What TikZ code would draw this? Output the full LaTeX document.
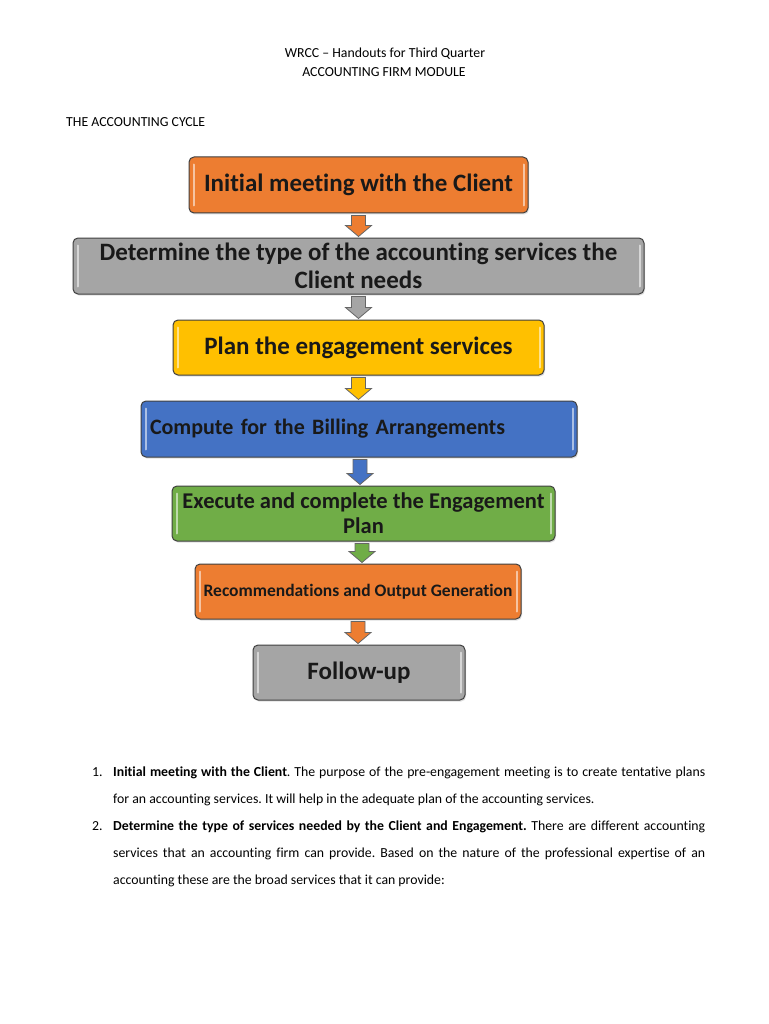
\documentclass[tikz,border=0pt]{standalone}
\usepackage{fontspec}
\setmainfont{Carlito}[Ligatures={TeX,NoCommon}]
\usetikzlibrary{calc,shadows}
\definecolor{cOrange}{HTML}{ED7D31}
\definecolor{cGray}{HTML}{A5A5A5}
\definecolor{cYellow}{HTML}{FFC000}
\definecolor{cBlue}{HTML}{4472C4}
\definecolor{cGreen}{HTML}{70AD47}
\definecolor{cEdge}{HTML}{404040}
\frenchspacing
\newcommand\flowarrow[4]{%
  \draw[flowarr, fill=#3] let \p1=([xshift=#4]#1.south), \p2=([xshift=#4]#2.north) in
    (\x1-7pt,\y1-2pt) -- (\x1+7pt,\y1-2pt) -- (\x1+7pt,\y2+12pt) -- (\x1+13pt,\y2+12pt)
    -- (\x1,\y2+1pt) -- (\x1-13pt,\y2+12pt) -- (\x1-7pt,\y2+12pt) -- cycle;}
\begin{document}
\begin{tikzpicture}[x=1pt,y=-1pt,
  box/.style={draw=cEdge, line width=1pt, rounded corners=5pt, inner sep=0pt,
    align=center, text=black!90,
    drop shadow={opacity=0.25, shadow xshift=1pt, shadow yshift=-1.5pt}},
  hl/.style={white, opacity=0.55, line width=2pt, line cap=round},
  flowarr/.style={draw=black!60, line width=0.8pt, line join=miter},
  plain/.style={inner sep=0pt, font=\fontsize{13.8}{16}\selectfont},
  listtext/.style={inner sep=0pt, anchor=north west, text width=592pt, align=justify,
    font=\fontsize{13.8}{27}\selectfont}]
\useasboundingbox (0,0) rectangle (768,1024);
\fill[white] (0,0) rectangle (768,1024);

% header
\node[plain] (h1) at (385,54) {WRCC -- Handouts for Third Quarter};
\node[plain] (h2) at (384,72) {ACCOUNTING FIRM MODULE};
\node[plain, anchor=west] (h3) at (66,122) {THE ACCOUNTING CYCLE};

% boxes
\node[box, fill=cOrange, minimum width=339pt, minimum height=56pt,
  font=\fontsize{25}{28}\selectfont\bfseries] (b1) at (358.5,185) {Initial meeting with the Client};
\node[box, fill=cGray, minimum width=571pt, minimum height=56pt,
  font=\fontsize{25}{28}\selectfont\bfseries] (b2) at (358.5,266) {Determine the type of the accounting services the\\Client needs};
\node[box, fill=cYellow, minimum width=371pt, minimum height=55pt,
  font=\fontsize{25}{28}\selectfont\bfseries] (b3) at (358.5,347.5) {Plan the engagement services};
\node[box, fill=cBlue, minimum width=436pt, minimum height=56pt, text width=418pt, align=left,
  font=\fontsize{22}{26}\selectfont\bfseries] (b4) at (359,429) {Compute for the Billing Arrangements};
\node[box, fill=cGreen, minimum width=383pt, minimum height=55pt,
  font=\fontsize{22.5}{25}\selectfont\bfseries] (b5) at (363.5,513.5) {Execute and complete the Engagement\\Plan};
\node[box, fill=cOrange, minimum width=326pt, minimum height=55pt,
  font=\fontsize{17.5}{20}\selectfont\bfseries] (b6) at (358,591.5) {Recommendations and Output Generation};
\node[box, fill=cGray, minimum width=212pt, minimum height=55pt,
  font=\fontsize{25}{28}\selectfont\bfseries] (b7) at (359,672.5) {Follow-up};

% bevel highlights
\foreach \b in {b1,b2,b3,b4,b5,b6,b7}{
  \draw[hl] ([xshift=5pt,yshift=-8pt]\b.north west) -- ([xshift=5pt,yshift=8pt]\b.south west);
  \draw[hl] ([xshift=-5pt,yshift=-8pt]\b.north east) -- ([xshift=-5pt,yshift=8pt]\b.south east);
}

% arrows
\flowarrow{b1}{b2}{cOrange}{0pt}
\flowarrow{b2}{b3}{cGray}{0pt}
\flowarrow{b3}{b4}{cYellow}{0pt}
\flowarrow{b4}{b5}{cBlue}{1pt}
\flowarrow{b5}{b6}{cGreen}{-1.5pt}
\flowarrow{b6}{b7}{cOrange}{0pt}

% list
\node[plain, anchor=north west] (n1) at (92,767) {1.};
\node[listtext] (t1) at (113,767) {\textbf{Initial meeting with the Client}. The purpose of the pre-engagement meeting is to create tentative plans\linebreak for an accounting services. It will help in the adequate plan of the accounting services.};
\node[plain, anchor=north west] (n2) at (92,821) {2.};
\node[listtext] (t2) at (113,821) {\textbf{Determine the type of services needed by the Client and Engagement.} There are different accounting\linebreak services that an accounting firm can provide. Based on the nature of the professional expertise of an\linebreak accounting these are the broad services that it can provide:};
\end{tikzpicture}
\end{document}
